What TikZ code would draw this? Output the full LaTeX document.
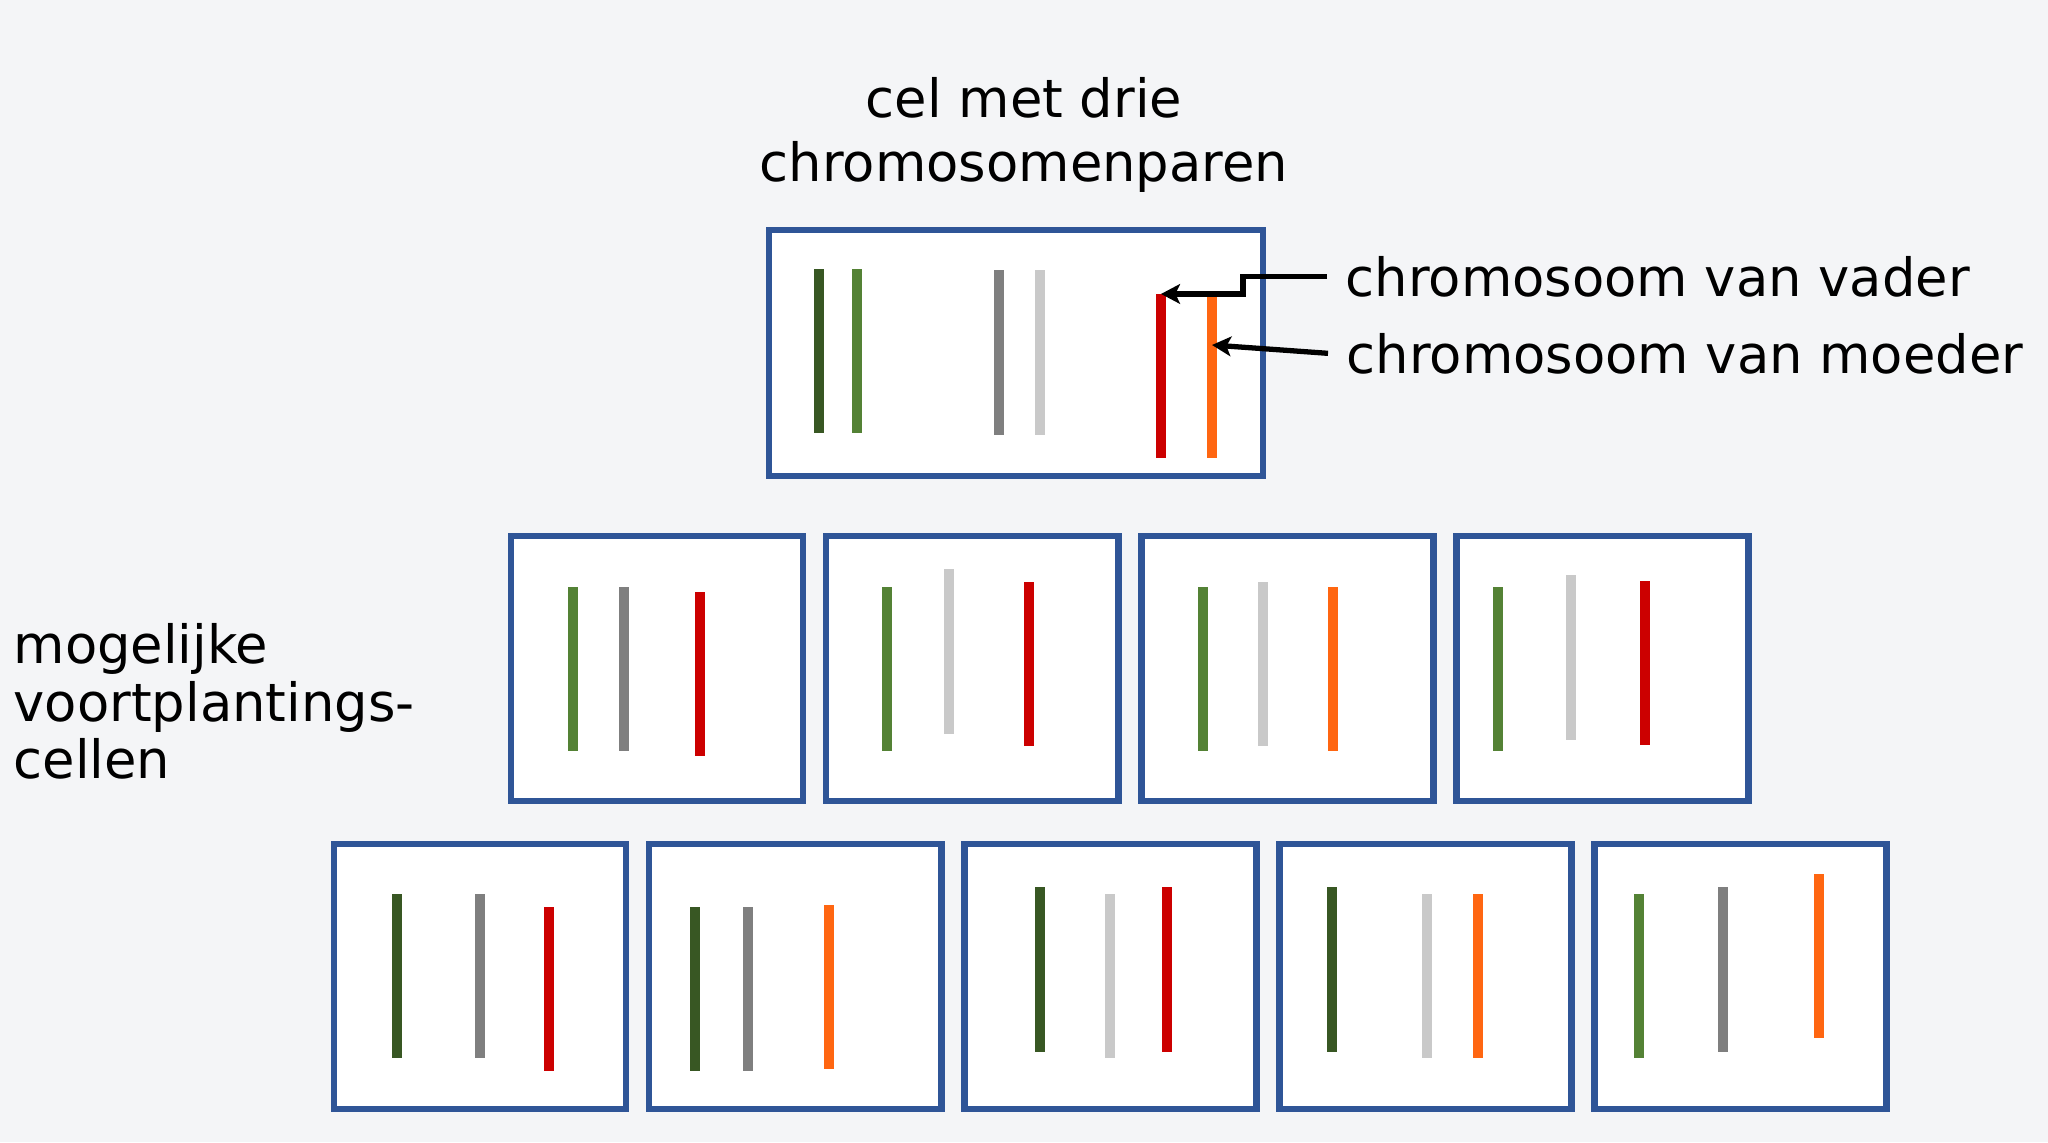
\documentclass[tikz,border=0pt]{standalone}
\usepackage{fontspec}
\setmainfont{DejaVu Sans}
\usetikzlibrary{positioning,arrows.meta}

\definecolor{celrand}{HTML}{2F5597}
\definecolor{achtergrond}{HTML}{F4F5F7}
\definecolor{donkergroen}{HTML}{385723}
\definecolor{lichtgroen}{HTML}{548235}
\definecolor{donkergrijs}{HTML}{7F7F7F}
\definecolor{lichtgrijs}{HTML}{C9C9C9}
\definecolor{rood}{HTML}{CC0000}
\definecolor{oranje}{HTML}{FF6611}

\begin{document}
\begin{tikzpicture}[x=0.01cm, y=-0.01cm, node distance=0.163cm,
    cel/.style={draw=celrand, fill=white, line width=1.9pt, minimum width=2.92cm, minimum height=2.65cm, inner sep=0pt},
    chrom/.style={minimum width=0.1cm, minimum height=1.64cm, inner sep=0pt, outer sep=0pt},
    tekst/.style={inner sep=0pt, font=\fontsize{15pt}{18.2pt}\selectfont},
    pijl/.style={line width=1.5pt, -{Stealth[length=5.4pt, width=5.6pt, inset=1.3pt]}}]

  % background
  \fill[achtergrond] (0,0) rectangle (2048,1142);
  \useasboundingbox (0,0) rectangle (2048,1142);

  % cells
  \node[cel, minimum width=4.94cm, minimum height=2.46cm] (ouder) at (1016,353) {};

  \node[cel] (m1) at (657,668.5) {};
  \node[cel, right=of m1] (m2) {};
  \node[cel, right=of m2] (m3) {};
  \node[cel, right=of m3] (m4) {};

  \node[cel] (o1) at (480,976.5) {};
  \node[cel, right=of o1] (o2) {};
  \node[cel, right=of o2] (o3) {};
  \node[cel, right=of o3] (o4) {};
  \node[cel, right=of o4] (o5) {};

  % chromosomes of the parent cell
  \node[chrom, fill=donkergroen] (pg1) at (819,351) {};
  \node[chrom, fill=lichtgroen]  (pg2) at (857,351) {};
  \node[chrom, fill=donkergrijs] (pk1) at (999,352.5) {};
  \node[chrom, fill=lichtgrijs]  (pk2) at (1040,352.5) {};
  \node[chrom, fill=rood]        (pr)  at (1161,376) {};
  \node[chrom, fill=oranje]      (po)  at (1212,376) {};

  % middle row
  \node[chrom, fill=lichtgroen]  (m1a) at (573,669) {};
  \node[chrom, fill=donkergrijs] (m1b) at (624,669) {};
  \node[chrom, fill=rood]        (m1c) at (700,674) {};

  \node[chrom, fill=lichtgroen]  (m2a) at (887,669) {};
  \node[chrom, fill=lichtgrijs]  (m2b) at (949,651.5) {};
  \node[chrom, fill=rood]        (m2c) at (1029,664) {};

  \node[chrom, fill=lichtgroen]  (m3a) at (1203,669) {};
  \node[chrom, fill=lichtgrijs]  (m3b) at (1263,664) {};
  \node[chrom, fill=oranje]      (m3c) at (1333,669) {};

  \node[chrom, fill=lichtgroen]  (m4a) at (1498,669) {};
  \node[chrom, fill=lichtgrijs]  (m4b) at (1571,657.5) {};
  \node[chrom, fill=rood]        (m4c) at (1645,663) {};

  % bottom row
  \node[chrom, fill=donkergroen] (o1a) at (397,976) {};
  \node[chrom, fill=donkergrijs] (o1b) at (480,976) {};
  \node[chrom, fill=rood]        (o1c) at (549,989) {};

  \node[chrom, fill=donkergroen] (o2a) at (695,989) {};
  \node[chrom, fill=donkergrijs] (o2b) at (748,989) {};
  \node[chrom, fill=oranje]      (o2c) at (829,987) {};

  \node[chrom, fill=donkergroen] (o3a) at (1040,969.5) {};
  \node[chrom, fill=lichtgrijs]  (o3b) at (1110,976) {};
  \node[chrom, fill=rood]        (o3c) at (1167,969.5) {};

  \node[chrom, fill=donkergroen] (o4a) at (1332,969.5) {};
  \node[chrom, fill=lichtgrijs]  (o4b) at (1427,976) {};
  \node[chrom, fill=oranje]      (o4c) at (1478,976) {};

  \node[chrom, fill=lichtgroen]  (o5a) at (1639,976) {};
  \node[chrom, fill=donkergrijs] (o5b) at (1723,969.5) {};
  \node[chrom, fill=oranje]      (o5c) at (1819,956) {};

  % labels
  \node[tekst, anchor=north, align=center] (titel) at (1024,77) {cel met drie\\chromosomenparen};
  \node[tekst, anchor=north west, align=left, font=\fontsize{15pt}{16.3pt}\selectfont] (uitleg) at (13,623) {mogelijke\\voortplantings-\\cellen};
  \node[tekst, anchor=base west, inner xsep=0.18cm] (vader) at (1327,296) {chromosoom van vader};
  \node[tekst, anchor=base west, inner xsep=0.18cm] (moeder) at (1328,373) {chromosoom van moeder};

  % arrows
  \draw[pijl] (vader.west) -- ++(-84,0) |- (pr.north);
  \draw[pijl] (moeder.west) -- ([yshift=-0.51cm]po.north);

\end{tikzpicture}
\end{document}
